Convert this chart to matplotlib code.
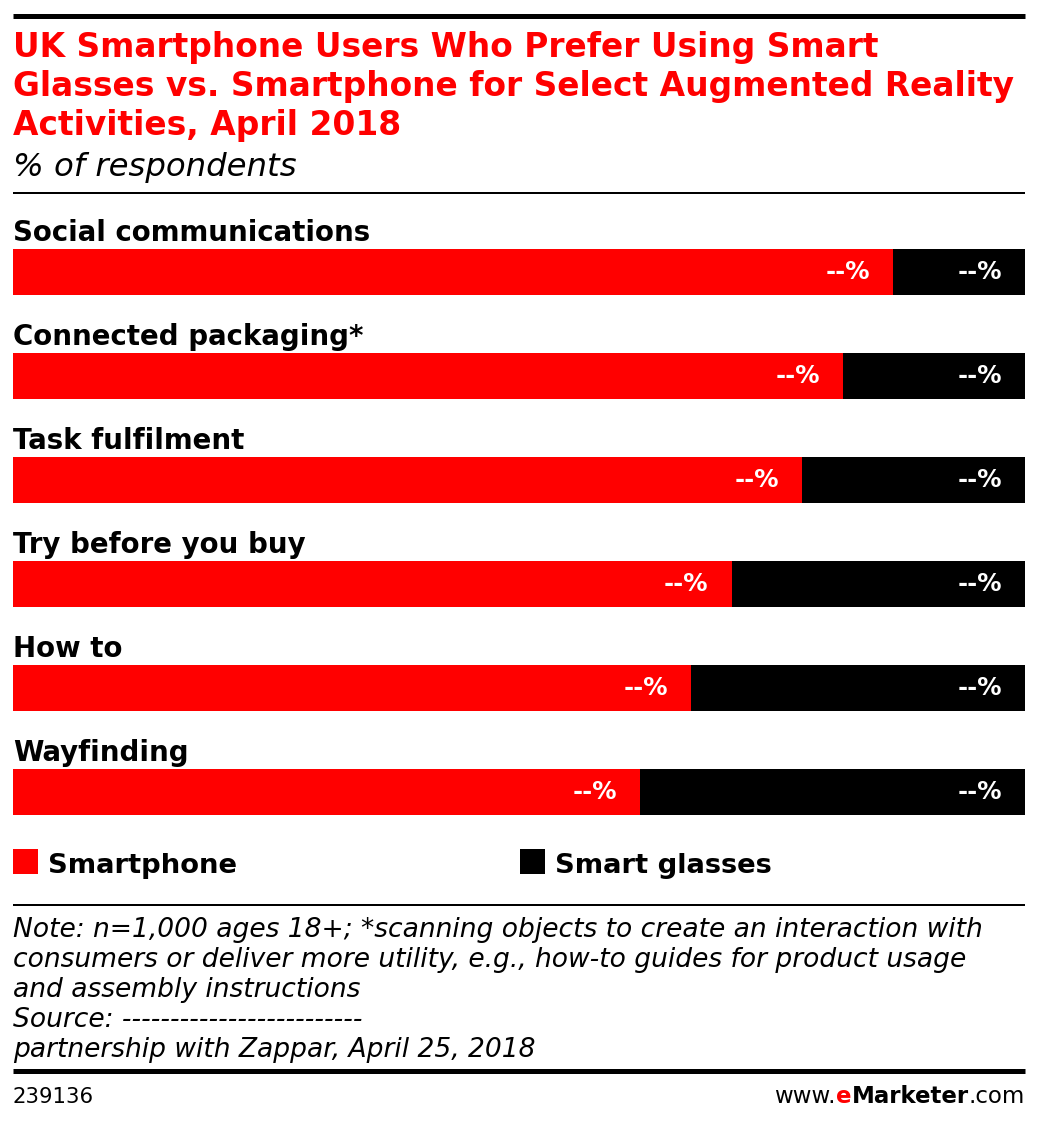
import matplotlib
matplotlib.use('Agg')
import matplotlib.pyplot as plt
from matplotlib.lines import Line2D
from matplotlib.patches import Rectangle

categories = ['Social communications', 'Connected packaging*', 'Task fulfilment',
              'Try before you buy', 'How to', 'Wayfinding']
smartphone = [87, 82, 78, 71, 67, 62]
smart_glasses = [13, 18, 22, 29, 33, 38]
smartphone_labels = ['--%', '--%', '--%', '--%', '--%', '--%']
glasses_labels = ['--%', '--%', '--%', '--%', '--%', '--%']
series_names = ['Smartphone', 'Smart glasses']

title_lines = ['UK Smartphone Users Who Prefer Using Smart',
               'Glasses vs. Smartphone for Select Augmented Reality',
               'Activities, April 2018']
subtitle = '% of respondents'
note_lines = ['Note: n=1,000 ages 18+; *scanning objects to create an interaction with',
              'consumers or deliver more utility, e.g., how-to guides for product usage',
              'and assembly instructions',
              'Source: -------------------------',
              'partnership with Zappar, April 25, 2018']
chart_id = '239136'

RED = '#ff0000'
BLACK = '#000000'

plt.rcParams['font.family'] = ['DejaVu Sans']

W, H = 1038, 1122
def fx(x):
    return x / W
def fy(y):
    return 1 - y / H

fig = plt.figure(figsize=(W / 100, H / 100), dpi=100)

# rules
def hline(y, lw_px):
    fig.add_artist(Line2D([fx(13), fx(1025)], [fy(y), fy(y)], color=BLACK,
                          lw=lw_px * 0.72, solid_capstyle='butt'))
hline(15.5, 5)
hline(193, 2)
hline(905, 2)
hline(1070.5, 5)

# title
for i, line in enumerate(title_lines):
    fig.text(fx(13), fy(57 + 39 * i), line, color=RED, fontsize=23.7,
             fontweight='bold', va='baseline', ha='left')
fig.text(fx(13), fy(176), subtitle, fontsize=23.3, style='italic',
         va='baseline', ha='left')

# bars
bar_h = 46 / 104
ax = fig.add_axes([fx(13), fy(815), 1012 / W, 566 / H])
ypos = list(range(len(categories)))
ax.barh(ypos, smartphone, height=bar_h, color=RED, lw=0)
ax.barh(ypos, smart_glasses, left=smartphone, height=bar_h, color=BLACK, lw=0)
ax.set_xlim(0, 100)
ax.set_ylim(len(categories) - 1 + bar_h / 2, -bar_h / 2)
ax.axis('off')

off = 23 / 1012 * 100
for i, cat in enumerate(categories):
    ax.text(0, i - bar_h / 2 - 8 / 104, cat, fontsize=19.9, fontweight='bold',
            va='baseline', ha='left')
    ax.text(smartphone[i] - off, i, smartphone_labels[i], color='white',
            fontsize=17.5, fontweight='bold', va='center', ha='right')
    ax.text(smartphone[i] + smart_glasses[i] - off, i, glasses_labels[i],
            color='white', fontsize=17.5, fontweight='bold', va='center', ha='right')

# legend
for name, col, x0 in zip(series_names, [RED, BLACK], [13, 520]):
    fig.add_artist(Rectangle((fx(x0), fy(874)), 25 / W, 25 / H,
                             transform=fig.transFigure, color=col, lw=0))
    fig.text(fx(x0 + 35), fy(873), name, fontsize=19.7, fontweight='bold',
             va='baseline', ha='left')

# note
for i, line in enumerate(note_lines):
    fig.text(fx(13), fy(937 + 30 * i), line, fontsize=19.1, style='italic',
             va='baseline', ha='left')

# footer
fig.text(fx(13), fy(1103), chart_id, fontsize=15.3, va='baseline', ha='left')
renderer = fig.canvas.get_renderer()
parts = [('.com', 'normal', BLACK), ('Marketer', 'bold', BLACK),
         ('e', 'bold', RED), ('www.', 'normal', BLACK)]
xr = 1025
for txt, wt, col in parts:
    t = fig.text(fx(xr), fy(1103), txt, fontsize=16.5, fontweight=wt, color=col,
                 va='baseline', ha='right')
    bb = t.get_window_extent(renderer)
    xr -= bb.width

fig.savefig('out.png', dpi=100)
